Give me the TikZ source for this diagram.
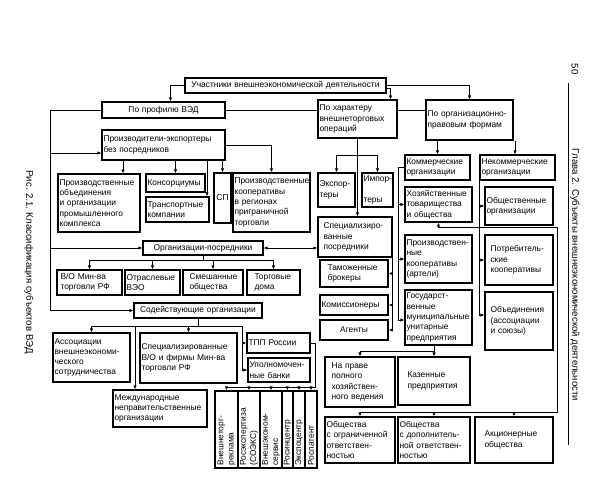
\documentclass[tikz,border=0pt]{standalone}
\usepackage{fontspec}
\setmainfont{Liberation Sans}
\usetikzlibrary{arrows.meta}

\begin{document}
\begin{tikzpicture}
  [x=1pt, y=-1pt, line width=0.9pt, >={Latex[length=4pt,width=3.4pt]},
   box/.style = {draw, line width=1.1pt, align=left, inner xsep=1.5pt, inner ysep=1pt,
     font=\fontsize{8.4}{10.3}\selectfont},
   sz/.style 2 args = {minimum width=#1pt, minimum height=#2pt, text width=#1pt-3pt},
   szp/.style n args = {3}{minimum width=#1pt, minimum height=#2pt, text width=#1pt-3pt-2*#3pt},
   mid/.style = {align=center},
   vbox/.style = {box, rotate=90, inner ysep=0.3pt, inner xsep=2.5pt},
   side/.style = {rotate=-90, font=\fontsize{9.6}{11}\selectfont}]
  \useasboundingbox (0,0) rectangle (596,488);

  % top of the tree
  \node[box, mid, sz={201}{15}] (top) at (285.5,85.5) {Участники внешнеэкономической деятельности};
  \node[box, mid, sz={123}{16}] (profile) at (163.5,110) {По профилю ВЭД};
  \node[box, sz={79}{38}] (character) at (357.5,119) {По характеру\\внешнеторговых\\операций};
  \node[box, sz={87}{40}] (orgform) at (469.5,120) {По организационно-\\правовым формам};

  % by profile
  \node[box, sz={123}{30}] (producers) at (163.5,145) {Производители-экспортеры\\без посредников};
  \node[box, sz={82}{58}] (prodassoc) at (99,203) {Производственные\\объединения\\и организации\\промышленного\\комплекса};
  \node[box, sz={59}{18}] (consort) at (175.5,183) {Консорциумы};
  \node[box, sz={63}{25}] (transport) at (177.5,209.5) {Транспортные\\компании};
  \node[box, mid, sz={17}{50}, inner xsep=0pt] (jv) at (222.5,198) {СП};
  \node[box, sz={77}{59}] (borderco) at (271.5,202.5) {Производственные\\кооперативы\\в регионах\\приграничной\\торговли};
  \node[box, mid, sz={120}{14}] (intermed) at (203,248) {Организации-посредники};
  \node[box, szp={65}{25}{2}] (vo) at (89.5,282.5) {В/О Мин-ва\\торговли РФ};
  \node[box, sz={55}{25}] (branch) at (152.5,282.5) {Отраслевые\\ВЭО};
  \node[box, szp={60}{25}{5}] (mixed) at (213,282.5) {Смешанные\\общества};
  \node[box, szp={53}{25}{6}] (trade) at (273.5,282.5) {Торговые\\дома};
  \node[box, mid, sz={128}{15}] (assist) at (198,310.5) {Содействующие организации};
  \node[box, sz={77}{49}] (assoc) at (91.5,357.5) {Ассоциации\\внешнеэкономи-\\ческого\\сотрудничества};
  \node[box, sz={97}{50}] (spvo) at (188.5,358) {Специализированные\\В/О и фирмы Мин-ва\\торговли РФ};
  \node[box, sz={94}{37}] (intl) at (160,408.5) {Международные\\неправительственные\\организации};
  \node[box, sz={63}{20}] (tpp) at (278.5,343) {ТПП России};
  \node[box, sz={62}{24}] (banks) at (279,370) {Уполномочен-\\ные банки};
  \node[vbox, sz={75}{23}] (r1) at (226.5,429.5) {Внешнеторг-\\реклама};
  \node[vbox, sz={75}{22}] (r2) at (249,429.5) {Росэкспертиза\\(СОЭКС)};
  \node[vbox, sz={75}{22}] (r3) at (271,429.5) {Внешэконом-\\сервис};
  \node[vbox, sz={75}{11.5}] (r4) at (287.5,429.5) {Росинцентр};
  \node[vbox, sz={75}{12}] (r5) at (299,429.5) {Экспоцентр};
  \node[vbox, sz={75}{12}] (r6) at (311,429.5) {Роспатент};

  % by kind of operation
  \node[box, sz={37}{34}] (exporters) at (336.5,190) {Экспор-\\теры};
  \node[box, sz={31}{34}] (importers) at (377.5,190) {Импор-\\теры};
  \node[box, szp={74}{40}{4}] (spint) at (355,237) {Специализиро-\\ванные\\посредники};
  \node[box, szp={68}{27}{6}] (customs) at (354,273.5) {Таможенные\\брокеры};
  \node[box, sz={68}{20}] (commis) at (354,305) {Комиссионеры};
  \node[box, mid, sz={68}{20}] (agents) at (354,330) {Агенты};

  % by legal form
  \node[box, sz={65}{25}] (commerc) at (437.5,167.5) {Коммерческие\\организации};
  \node[box, sz={75}{25}] (noncom) at (517.5,167.5) {Некоммерческие\\организации};
  \node[box, sz={67}{35}] (partner) at (438.5,204.5) {Хозяйственные\\товарищества\\и общества};
  \node[box, sz={67}{48}] (artel) at (438.5,259) {Производствен-\\ные\\кооперативы\\(артели)};
  \node[box, sz={67}{55}] (unitary) at (438.5,317.5) {Государст-\\венные\\муниципальные\\унитарные\\предприятия};
  \node[box, sz={68}{38}] (public) at (519,206) {Общественные\\организации};
  \node[box, szp={68}{50}{4}] (consumer) at (519,260) {Потребитель-\\ские\\кооперативы};
  \node[box, szp={68}{58}{4}] (union) at (519,321) {Объединения\\(ассоциации\\и союзы)};
  \node[box, szp={70}{50}{5}] (fullright) at (360,382) {На праве\\полного\\хозяйствен-\\ного ведения};
  \node[box, szp={72}{48}{8}] (treasury) at (434,381) {Казенные\\предприятия};
  \node[box, sz={70}{46}] (llc) at (360,440) {Общества\\с ограниченной\\ответствен-\\ностью};
  \node[box, sz={72}{46}] (alc) at (434,440) {Общества\\с дополнитель-\\ной ответствен-\\ностью};
  \node[box, szp={78}{46}{8}] (jsc) at (514,440) {Акционерные\\общества};

  % page margins
  \node[side] (caption) at (29,262) {Рис. 2.1. Классификация субъектов ВЭД};
  \node[side] (page) at (575,69) {50};
  \node[side] (chapter) at (575,275) {Глава 2. Субъекты внешнеэкономической деятельности};
  \draw[line width=0.6pt] (568,83) -- (568,445);

  \coordinate (spine) at (50,310.5);
  \coordinate (ibus) at (203,260);
  \coordinate (abus) at (198,326);
  \coordinate (rbus) at (315,387);
  \coordinate (cbus) at (357.5,155);
  \coordinate (cspine) at (398,320);
  \coordinate (nspine) at (479,315);
  \coordinate (pcorner) at (557,227);
  \coordinate (pbus) at (557,412);
  \coordinate (ubus) at (434,351);

  \draw[->] (top.west) -| ([xshift=7pt]profile.north);
  \draw[->] ([yshift=-3pt]top.east) -| ([xshift=-7pt]character.north east);
  \draw[->] (top.east) -| (orgform.north);
  \draw (profile.east) -- (character.west |- profile.east);
  \draw (character.east |- profile.east) -- (orgform.west |- profile.east);

  \draw (profile.west) -| (spine);
  \draw[->] ([yshift=-8pt]producers.west -| spine) -- ([yshift=-8pt]producers.west);
  \draw[->] (spine |- intermed.west) -- (intermed.west);
  \draw[->] (spine) -- (assist.west);

  \draw[->] (123,0 |- producers.south) -- (123,0 |- prodassoc.north);
  \draw[->] (consort.north |- producers.south) -- (consort.north);
  \draw[->] (207,0 |- producers.south) -- (207,0 |- transport.north);
  \draw[->] (jv.north |- producers.south) -- (jv.north);
  \draw[->] (producers.east) -| (borderco.north);

  \draw (intermed.south) -- (ibus);
  \draw[->] (ibus) -| (vo.north);
  \draw[->] (ibus) -| (trade.north);
  \draw[->] (branch.north |- ibus) -- (branch.north);
  \draw[->] (mixed.north |- ibus) -- (mixed.north);
  \draw[<->] (intermed.east) -- (spint.west |- intermed.east);

  \draw (assist.south) -- (abus);
  \draw[->] (abus) -| (assoc.north);
  \draw[->] (spvo.north |- abus) -- (spvo.north);
  \draw[->] (135,0 |- abus) -- (135,0 |- intl.north);
  \draw[->] (abus) -| (242,0 |- banks.west) -- (banks.west);
  \draw[->] (242,0 |- tpp.west) -- (tpp.west);

  \draw (tpp.east) -| (rbus) -- (r1.east |- rbus);
  \foreach \r in {r1,r2,r3,r4,r5,r6}
    \draw[->] (\r.east |- rbus) -- (\r.east);

  \draw[->] (character.south) -- (character.south |- spint.north);
  \draw[->] (cbus) -| (exporters.north);
  \draw[->] (cbus) -| (importers.north);
  \draw (spint.south east) -- (spint.south east |- agents.east);
  \foreach \n in {customs,commis,agents}
    \draw[->] (spint.south east |- \n.east) -- (\n.east);

  \draw[->] (commerc.north |- orgform.south) -- (commerc.north);
  \draw[->] (515,0 |- orgform.south) -- (515,0 |- noncom.north);
  \draw (commerc.west) -| (cspine);
  \draw[->] (cspine |- partner.west) -- (partner.west);
  \draw[->] (cspine |- artel.west) -- (artel.west);
  \draw[->] (cspine) -- (cspine -| unitary.west);
  \draw (nspine |- noncom.south) -- (nspine);
  \draw[->] (nspine |- public.west) -- (public.west);
  \draw[->] (nspine |- consumer.west) -- (consumer.west);
  \draw[->] (nspine) -- (nspine -| union.west);

  \draw[<-] (partner.south) |- (pcorner) -- (pbus) -- (llc.north |- pbus);
  \foreach \n in {llc,alc,jsc}
    \draw[->] (\n.north |- pbus) -- (\n.north);
  \draw[->] (treasury.north |- unitary.south) -- (treasury.north);
  \draw[->] (ubus) -| (fullright.north);
\end{tikzpicture}
\end{document}
